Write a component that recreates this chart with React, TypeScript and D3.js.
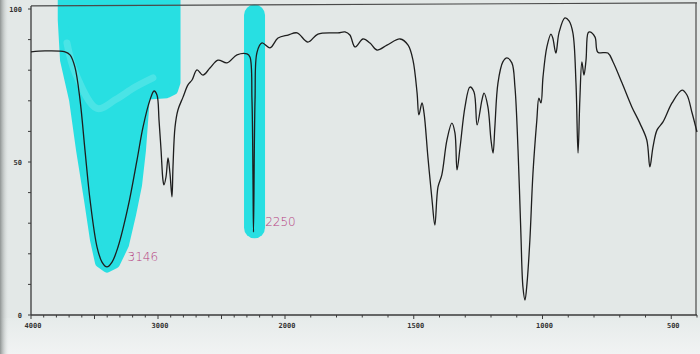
import React from "react";
import * as d3 from "d3";

// IR spectrum: wavenumber (cm-1) and %transmittance
const wavenumber = [
  4000, 3890, 3732, 3693, 3654, 3614, 3575, 3535, 3480, 3441, 3402, 3362, 3315, 3236, 3165, 3118,
  3063, 3031, 3008, 2992, 2976, 2961, 2953, 2937, 2921, 2906, 2890, 2882, 2866, 2843, 2803, 2764,
  2732, 2693, 2646, 2591, 2528, 2457, 2378, 2299, 2276, 2260, 2252, 2248, 2236, 2220, 2181, 2118,
  2055, 1988, 1953, 1911, 1872, 1794, 1767, 1748, 1728, 1697, 1670, 1643, 1604, 1553, 1522, 1503,
  1487, 1480, 1468, 1460, 1445, 1429, 1418, 1406, 1391, 1371, 1352, 1340, 1332, 1320, 1301, 1282,
  1266, 1254, 1235, 1227, 1212, 1200, 1192, 1185, 1173, 1154, 1138, 1119, 1107, 1095, 1084, 1076,
  1068, 1060, 1049, 1037, 1022, 1014, 1006, 998, 983, 967, 960, 948, 936, 913, 897, 882,
  870, 862, 855, 847, 839, 831, 823, 816, 796, 785, 746, 726, 691, 653, 622, 595,
  583, 571, 555, 532, 497, 458, 439, 419, 400,
];
const transmittance = [
  86, 86.3, 86, 85, 81, 70.3, 53.9, 37.6, 22.2, 17.3, 15.7, 17.3, 22.2, 35.3, 50.7, 61.4,
  70.3, 73.2, 71.9, 63.7, 53.9, 44.1, 42.5, 45.1, 51.3, 46.4, 38.6, 48.4, 61.4, 67, 71.2, 75.2,
  76.8, 80.1, 78.4, 80.7, 83.3, 82.4, 85, 85.3, 84.3, 70.3, 44.1, 27.1, 70.3, 85.9, 88.9, 87.3,
  90.5, 91.5, 92.2, 89.2, 91.8, 92.2, 92.5, 91.5, 87.6, 90.2, 88.9, 86.6, 88.2, 90.2, 88.2, 83.3,
  72.5, 65.4, 69.3, 66, 51.6, 37.6, 29.4, 41.8, 45.8, 57.2, 62.7, 59.5, 47.4, 54.9, 68, 74.5,
  72.9, 62.1, 70.3, 72.5, 68, 57.2, 52.9, 61.4, 75.8, 82.7, 84, 82.4, 74.5, 53.9, 26.8, 9.2,
  4.9, 10.5, 24.5, 46.4, 63.7, 70.9, 69.3, 77.8, 87.6, 91.8, 90.5, 85.6, 92.2, 97.1, 96.1, 92.2,
  75.8, 52.9, 70.3, 82.7, 78.4, 83.3, 92.2, 92.5, 90.8, 85.9, 85.6, 82.7, 75.8, 68, 62.7, 57.2,
  48.4, 54.9, 60.5, 63.1, 69.3, 73.5, 71.9, 66, 59.8,
];

const xTickLabels = [4000, 3000, 2000, 1500, 1000, 500];
const yTickLabels = [100, 50, 0];

// hand-drawn highlighter marks (wavenumber, %T)
const highlightBlobWn = [3750, 2862, 2862, 2882, 2930, 3102, 3134, 3165, 3213, 3268, 3339, 3402, 3457, 3496, 3543, 3606, 3661, 3732, 3750];
const highlightBlobT = [104, 104, 76, 73.5, 72.5, 72, 53.9, 42.5, 32.7, 22.9, 16.8, 15.5, 17.2, 24.5, 37.6, 53.9, 70.3, 83.3, 96.4];
const streakWn = [3717, 3650, 3480, 3330, 3180, 3040];
const streakT = [88.9, 79, 67.5, 70.5, 74.5, 77.5];
const barWn = 2240;
const barT = [98, 28.5];

const annotations = [
  { text: "3146", wn: 3240, t: 17.5 },
  { text: "2250", wn: 2156, t: 29 },
];

const W = 700;
const H = 354;

export default function App() {
  const x = d3.scaleLinear().domain([4000, 2000, 400]).range([31, 285, 697]);
  const y = d3.scaleLinear().domain([0, 100]).range([315, 9]);

  const pts: [number, number][] = wavenumber.map((w, i) => [x(w), y(transmittance[i])]);
  const line = d3.line().curve(d3.curveCatmullRom.alpha(0.5));
  const spectrum = line(pts) || "";

  const blobPts: [number, number][] = highlightBlobWn.map((w, i) => [x(w), y(highlightBlobT[i])]);
  const blob = d3.line().curve(d3.curveLinearClosed)(blobPts) || "";
  const streak =
    d3.line().curve(d3.curveCatmullRom.alpha(0.5))(
      streakWn.map((w, i) => [x(w), y(streakT[i])] as [number, number])
    ) || "";

  const minorX = d3.range(4000, 399, -100);
  const minorY = d3.range(0, 101, 10);

  const cyan = "#1fdfe2";
  const axisColor = "#3a3a3a";
  const font = "'DejaVu Sans Mono', 'Liberation Mono', monospace";

  return (
    <svg
      width={W}
      height={H}
      style={{ position: "absolute", left: 0, top: 0 }}
      xmlns="http://www.w3.org/2000/svg"
    >
      <defs>
        <linearGradient id="leftShade" x1="0" x2="1" y1="0" y2="0">
          <stop offset="0" stopColor="#8f9493" />
          <stop offset="1" stopColor="#e3e8e7" stopOpacity="0" />
        </linearGradient>
        <linearGradient id="bottomLight" x1="0" x2="0" y1="0" y2="1">
          <stop offset="0" stopColor="#e6ebea" />
          <stop offset="1" stopColor="#f1f3f3" />
        </linearGradient>
      </defs>
      <rect x={0} y={0} width={W} height={H} fill="#e3e8e7" />
      <rect x={0} y={318} width={W} height={H - 318} fill="url(#bottomLight)" />
      <rect x={0} y={0} width={9} height={H} fill="url(#leftShade)" />

      {/* highlighter marks */}
      <g opacity={0.95}>
        <path d={blob} fill={cyan} stroke={cyan} strokeWidth={10} strokeLinejoin="round" />
        <line
          x1={x(barWn)}
          x2={x(barWn)}
          y1={y(barT[0])}
          y2={y(barT[1])}
          stroke={cyan}
          strokeWidth={21}
          strokeLinecap="round"
        />
      </g>
      <path d={streak} fill="none" stroke="#ffffff" strokeOpacity={0.16} strokeWidth={7} strokeLinecap="round" />

      {/* frame */}
      <line x1={x(4000)} x2={x(400)} y1={y(101)} y2={y(102)} stroke="#4a4a4a" strokeWidth={1.2} />
      <line x1={x(400) - 1} x2={x(400) - 1} y1={y(102)} y2={y(0)} stroke="#4a4a4a" strokeWidth={1.2} />

      {/* y axis */}
      <line x1={x(4000)} x2={x(4000)} y1={y(101)} y2={y(0)} stroke={axisColor} strokeWidth={1.3} />
      {minorY.map((v) => (
        <line key={"yt" + v} x1={x(4000) - 3} x2={x(4000)} y1={y(v)} y2={y(v)} stroke={axisColor} strokeWidth={1} />
      ))}
      {yTickLabels.map((v) => (
        <text
          key={"yl" + v}
          x={22}
          y={y(v) + 2.5}
          textAnchor="end"
          fontFamily={font}
          fontSize={7}
          fontWeight="bold"
          fill="#333"
        >
          {v}
        </text>
      ))}

      {/* x axis */}
      <line x1={x(4000)} x2={x(400)} y1={y(0)} y2={y(0)} stroke={axisColor} strokeWidth={1.3} />
      {minorX.map((v) => (
        <line
          key={"xt" + v}
          x1={x(v)}
          x2={x(v)}
          y1={y(0)}
          y2={y(0) + (v % 500 === 0 ? 4 : 2.5)}
          stroke={axisColor}
          strokeWidth={1}
        />
      ))}
      {xTickLabels.map((v) => (
        <text
          key={"xl" + v}
          x={x(v) + 2}
          y={y(0) + 13}
          textAnchor="middle"
          fontFamily={font}
          fontSize={7}
          fontWeight="bold"
          fill="#333"
        >
          {v}
        </text>
      ))}

      {/* spectrum */}
      <path d={spectrum} fill="none" stroke="#1e1e1e" strokeWidth={1.3} strokeLinejoin="round" />

      {/* handwritten annotations */}
      {annotations.map((a) => (
        <text
          key={a.text}
          x={x(a.wn)}
          y={y(a.t)}
          fontFamily="'DejaVu Sans', sans-serif"
          fontSize={12}
          fill="#b63f82"
          style={{ fontWeight: 300 }}
        >
          {a.text}
        </text>
      ))}
    </svg>
  );
}
